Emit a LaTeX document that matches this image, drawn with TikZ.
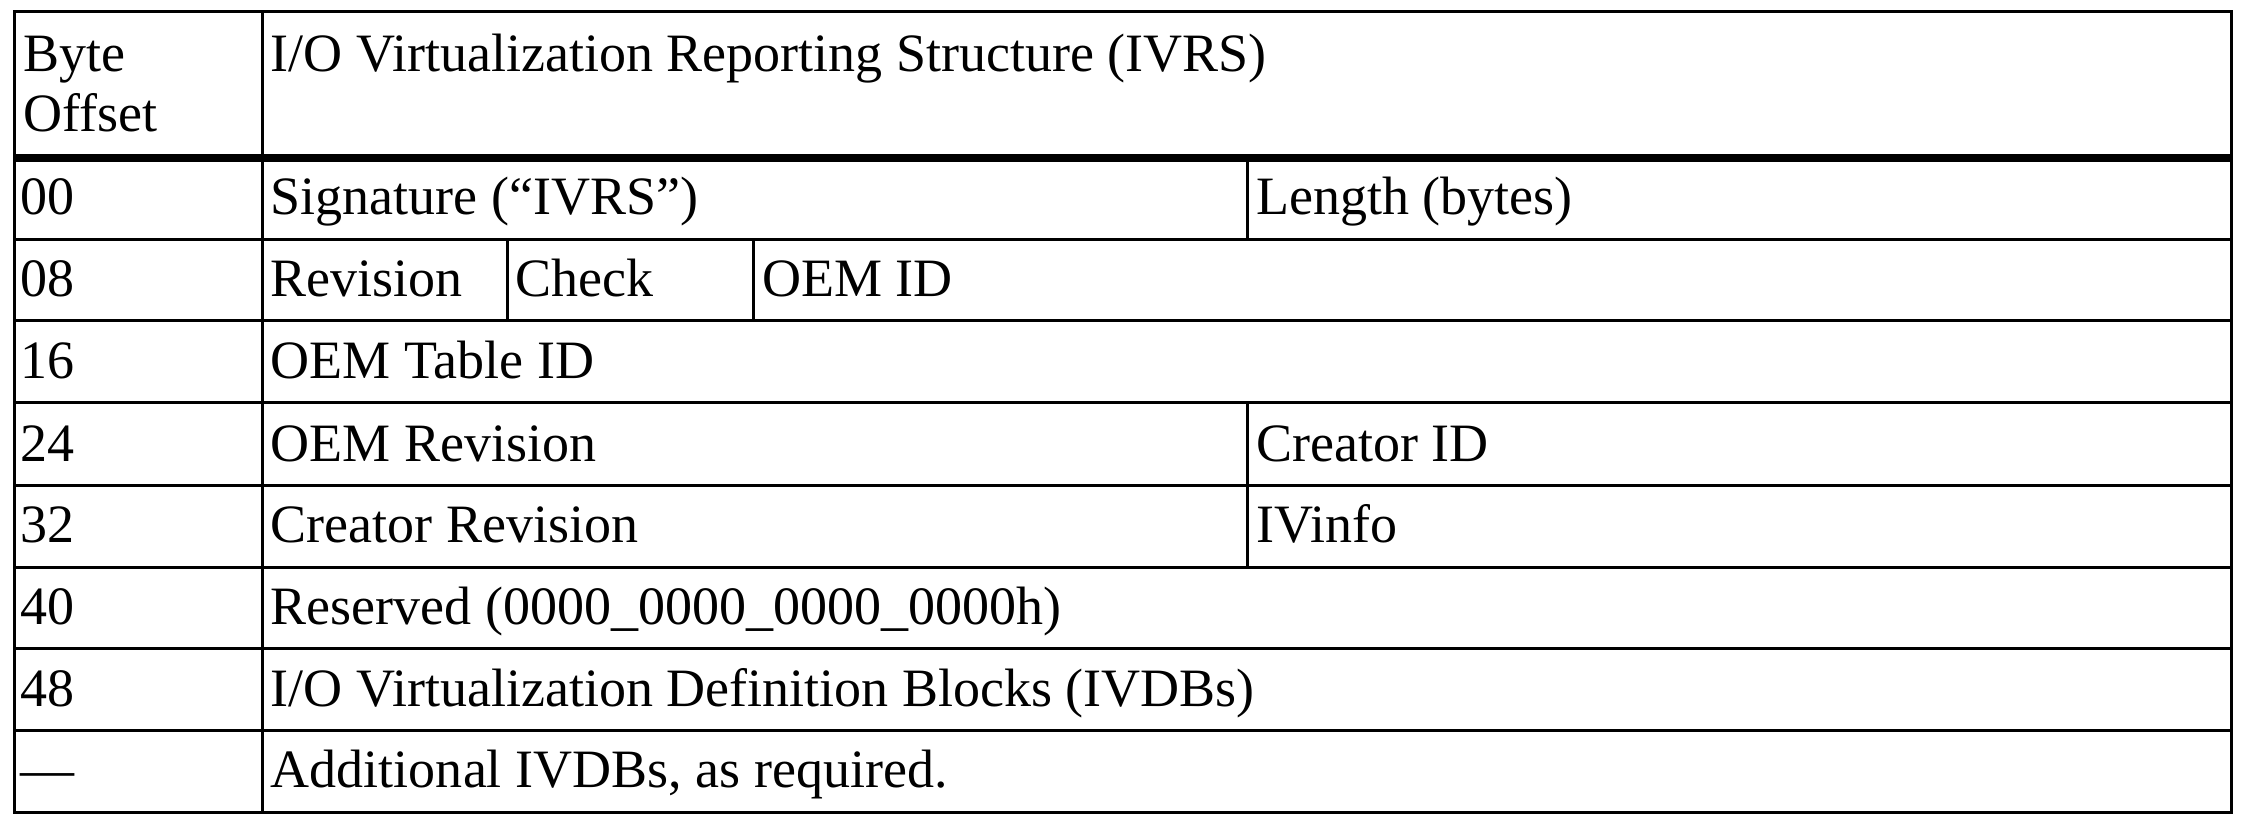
\documentclass[tikz,border=0pt]{standalone}
\usepackage{fontspec}
\setmainfont{Liberation Serif}
\begin{document}
\begin{tikzpicture}[x=1.432pt,y=-1.432pt,
  txt/.style={anchor=base west,inner sep=0pt,font=\fontsize{54}{62}\selectfont},
  rule/.style={line width=2.9pt}]
\useasboundingbox (0,0) rectangle (1568,568);
\draw[rule] (10,8) rectangle (1558,567);
\draw[rule] (183,8) -- (183,567);
\draw[line width=8pt] (10,110) -- (1558,110);
\foreach \y in {167,224,281,339,396,453,510} \draw[rule] (10,\y) -- (1558,\y);
\draw[rule] (871,110) -- (871,167);
\draw[rule] (354,167) -- (354,224);
\draw[rule] (526,167) -- (526,224);
\draw[rule] (871,281) -- (871,396);
\node[txt] (h1) at (16,50) {Byte};
\node[txt] (h2) at (16,92) {Offset};
\node[txt] (h3) at (189,50) {I/O Virtualization Reporting Structure (IVRS)};
\node[txt] (a0) at (14,150) {00};
\node[txt] (a1) at (189,150) {Signature (“IVRS”)};
\node[txt] (a2) at (877,150) {Length (bytes)};
\node[txt] (b0) at (14,207) {08};
\node[txt] (b1) at (189,207) {Revision};
\node[txt] (b2) at (360,207) {Check};
\node[txt] (b3) at (532,207) {OEM ID};
\node[txt] (c0) at (14,264) {16};
\node[txt] (c1) at (189,264) {OEM Table ID};
\node[txt] (d0) at (14,322) {24};
\node[txt] (d1) at (189,322) {OEM Revision};
\node[txt] (d2) at (877,322) {Creator ID};
\node[txt] (e0) at (14,379) {32};
\node[txt] (e1) at (189,379) {Creator Revision};
\node[txt] (e2) at (877,379) {IVinfo};
\node[txt] (f0) at (14,436) {40};
\node[txt] (f1) at (189,436) {Reserved (0000\_0000\_0000\_0000h)};
\node[txt] (g0) at (14,493) {48};
\node[txt] (g1) at (189,493) {I/O Virtualization Definition Blocks (IVDBs)};
\node[txt] (k0) at (14,550) {—};
\node[txt] (k1) at (189,550) {Additional IVDBs, as required.};
\end{tikzpicture}
\end{document}
